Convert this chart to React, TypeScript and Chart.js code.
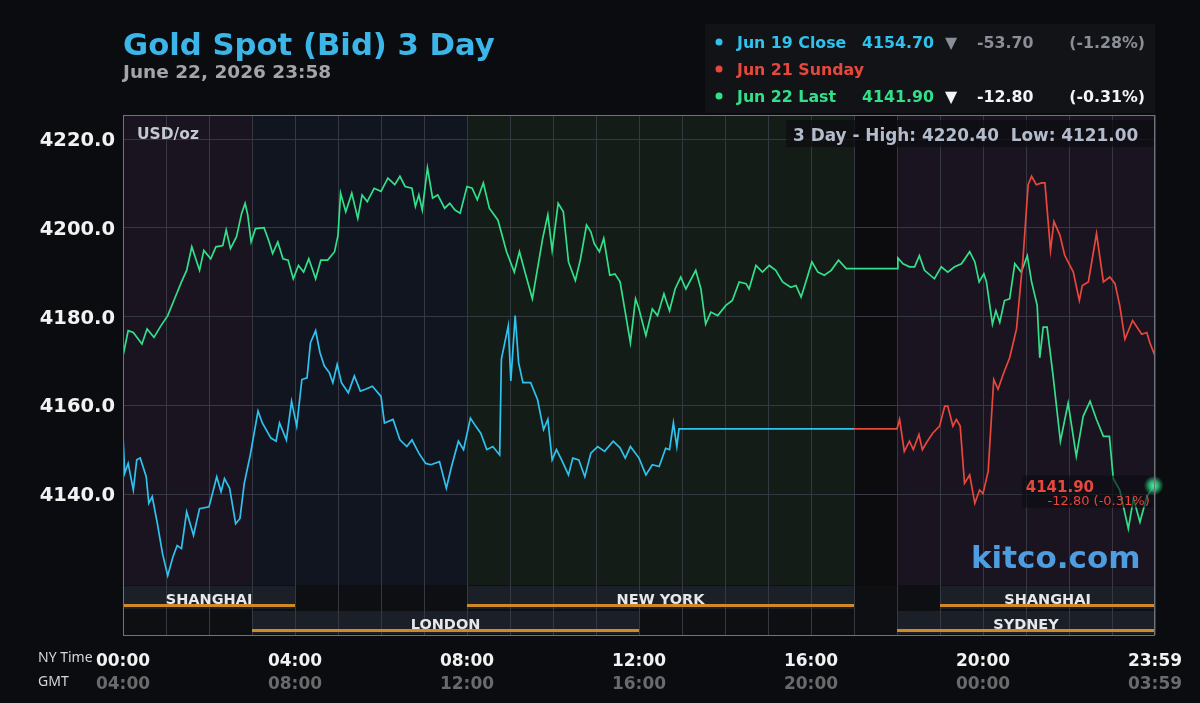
import React, { useEffect, useRef } from "react";
import { Chart, registerables } from "chart.js";

Chart.register(...registerables);

// ---------- DATA (hours in NY time, price USD/oz) ----------
const friHours = [0, 0.04, 0.12, 0.24, 0.32, 0.4, 0.54, 0.6, 0.68, 0.8, 0.92, 1.04, 1.16, 1.26, 1.36, 1.48, 1.64, 1.78, 2.0, 2.18, 2.28, 2.36, 2.48, 2.62, 2.72, 2.82, 2.96, 3.14, 3.24, 3.44, 3.56, 3.64, 3.8, 3.92, 4.04, 4.16, 4.28, 4.36, 4.48, 4.58, 4.68, 4.8, 4.88, 4.98, 5.08, 5.24, 5.38, 5.52, 5.64, 5.8, 6.0, 6.08, 6.28, 6.44, 6.6, 6.72, 6.88, 7.04, 7.16, 7.36, 7.52, 7.64, 7.8, 7.92, 8.08, 8.2, 8.32, 8.46, 8.6, 8.76, 8.8, 8.96, 9.02, 9.12, 9.2, 9.3, 9.48, 9.64, 9.78, 9.88, 9.98, 10.08, 10.2, 10.36, 10.46, 10.6, 10.74, 10.88, 11.04, 11.2, 11.4, 11.56, 11.68, 11.8, 12.0, 12.16, 12.31, 12.47, 12.62, 12.71, 12.8, 12.88, 12.93, 17.0];
const friValues = [4153, 4144.7, 4146.9, 4140.9, 4147.7, 4148.1, 4143.9, 4137.9, 4139.4, 4133.3, 4126.5, 4121.6, 4125.8, 4128.4, 4127.7, 4136, 4130.7, 4136.7, 4137.1, 4143.9, 4140.5, 4143.5, 4141.3, 4133.3, 4134.5, 4142.4, 4148.8, 4158.7, 4156, 4152.6, 4151.9, 4156, 4152.2, 4160.9, 4155.3, 4165.8, 4166.2, 4174.1, 4176.8, 4171.9, 4168.9, 4167.3, 4165.1, 4169.2, 4165.1, 4162.8, 4166.6, 4163.2, 4163.6, 4164.3, 4162, 4156, 4156.8, 4152.2, 4150.7, 4152.2, 4149.2, 4146.9, 4146.6, 4147.3, 4141.3, 4146.2, 4151.9, 4150, 4157.1, 4155.3, 4153.7, 4150, 4150.7, 4148.8, 4170.4, 4177.9, 4165.5, 4180.2, 4169.6, 4165.1, 4165.1, 4161.3, 4154.5, 4156.8, 4147.7, 4150, 4147.7, 4144.3, 4148.1, 4147.7, 4143.9, 4149.2, 4150.7, 4149.6, 4151.9, 4150.4, 4148.1, 4150.7, 4148.1, 4144.3, 4146.6, 4146.2, 4150.3, 4150, 4156, 4150.7, 4154.7, 4154.7];

const sunHours = [17.0, 18.0, 18.06, 18.17, 18.29, 18.38, 18.51, 18.59, 18.68, 18.83, 18.99, 19.11, 19.18, 19.3, 19.38, 19.47, 19.57, 19.69, 19.81, 19.92, 20.0, 20.12, 20.25, 20.35, 20.47, 20.62, 20.78, 20.93, 21.05, 21.13, 21.24, 21.36, 21.44, 21.57, 21.65, 21.79, 21.9, 22.1, 22.24, 22.31, 22.45, 22.64, 22.8, 22.95, 23.07, 23.18, 23.3, 23.48, 23.69, 23.81, 23.88, 24.0];
const sunValues = [4154.7, 4154.7, 4156.8, 4149.6, 4151.9, 4150, 4153.4, 4150, 4151.5, 4153.7, 4155.3, 4159.8, 4159.8, 4155.3, 4156.8, 4155.3, 4142.4, 4144.3, 4137.9, 4140.9, 4140.1, 4145.1, 4165.8, 4163.6, 4167, 4170.7, 4177.2, 4193, 4209.7, 4211.6, 4209.7, 4210.1, 4210.1, 4194.9, 4201.4, 4198.3, 4193.8, 4190, 4183.6, 4187, 4187.8, 4198.7, 4187.8, 4188.9, 4187.4, 4182.5, 4174.9, 4179.1, 4176, 4176.4, 4174.1, 4171.1];

const monHours = [0, 0.12, 0.24, 0.44, 0.56, 0.72, 0.88, 1.04, 1.2, 1.36, 1.48, 1.6, 1.78, 1.88, 2.04, 2.16, 2.32, 2.4, 2.5, 2.64, 2.76, 2.84, 2.9, 2.98, 3.08, 3.28, 3.4, 3.48, 3.6, 3.72, 3.84, 3.96, 4.08, 4.2, 4.32, 4.48, 4.6, 4.76, 4.92, 5.0, 5.06, 5.18, 5.32, 5.46, 5.56, 5.68, 5.84, 6.0, 6.16, 6.32, 6.44, 6.56, 6.72, 6.8, 6.88, 6.96, 7.08, 7.2, 7.32, 7.48, 7.6, 7.72, 7.84, 8.0, 8.12, 8.24, 8.38, 8.52, 8.72, 8.92, 9.1, 9.22, 9.36, 9.52, 9.64, 9.76, 9.88, 9.98, 10.12, 10.24, 10.36, 10.52, 10.64, 10.78, 10.88, 10.96, 11.08, 11.18, 11.32, 11.44, 11.56, 11.68, 11.8, 11.92, 12.0, 12.16, 12.31, 12.43, 12.58, 12.71, 12.84, 12.97, 13.09, 13.32, 13.44, 13.55, 13.67, 13.83, 14.02, 14.17, 14.33, 14.49, 14.56, 14.72, 14.87, 15.03, 15.18, 15.34, 15.53, 15.65, 15.77, 15.88, 16.02, 16.16, 16.31, 16.47, 16.64, 16.82, 17.0, 18.0, 18.02, 18.14, 18.29, 18.41, 18.52, 18.64, 18.87, 19.03, 19.18, 19.34, 19.5, 19.69, 19.81, 19.91, 20.02, 20.08, 20.22, 20.3, 20.39, 20.5, 20.62, 20.74, 20.89, 21.03, 21.13, 21.26, 21.32, 21.4, 21.49, 21.63, 21.8, 21.98, 22.17, 22.33, 22.49, 22.64, 22.8, 22.94, 23.03, 23.18, 23.38, 23.5, 23.65, 23.81, 23.97];
const monValues = [4171.1, 4176.8, 4176.4, 4173.8, 4177.2, 4175.3, 4177.9, 4180.2, 4184, 4187.8, 4190.4, 4195.7, 4190.4, 4194.9, 4193, 4195.7, 4196, 4199.5, 4195.3, 4198, 4203.3, 4205.5, 4202.9, 4196.8, 4199.8, 4200, 4196.8, 4194.2, 4196.8, 4193, 4192.7, 4188.5, 4191.5, 4190, 4193, 4188.5, 4192.7, 4192.7, 4194.6, 4198.3, 4207.8, 4203.6, 4207.8, 4202.1, 4207.4, 4205.9, 4208.9, 4208.2, 4211.2, 4209.7, 4211.6, 4209.3, 4208.9, 4204.8, 4207.4, 4204, 4213.5, 4206.7, 4207.4, 4204.4, 4205.5, 4204, 4203.3, 4209.3, 4208.9, 4206.3, 4210.1, 4204.4, 4201.7, 4194.6, 4190, 4194.6, 4189.6, 4184, 4190.8, 4197.6, 4202.9, 4194.9, 4205.5, 4203.6, 4192.3, 4188.1, 4193, 4200.6, 4199.1, 4196.4, 4194.6, 4197.6, 4189.3, 4189.6, 4187.8, 4181, 4174.1, 4184, 4181.7, 4175.7, 4181.7, 4180.2, 4185.1, 4181.3, 4186.2, 4188.9, 4186.2, 4190.4, 4186.2, 4178.3, 4181, 4180.2, 4182.5, 4183.6, 4187.8, 4187.4, 4186.2, 4191.5, 4190, 4191.5, 4190.4, 4187.8, 4186.6, 4187, 4184.4, 4187.8, 4192.3, 4190, 4189.3, 4190.4, 4192.7, 4190.8, 4190.8, 4190.8, 4193.2, 4191.9, 4191.2, 4191.2, 4193.7, 4190.4, 4188.5, 4191.2, 4190, 4191.2, 4191.9, 4194.6, 4192.3, 4187.8, 4189.6, 4187.8, 4178.3, 4181.3, 4178.7, 4183.6, 4184, 4191.9, 4190, 4193.7, 4187.8, 4182.5, 4170.7, 4177.6, 4177.6, 4166.6, 4151.9, 4160.5, 4148.5, 4157.5, 4160.9, 4156.8, 4153, 4153, 4143.5, 4140.9, 4132.2, 4139, 4133.7, 4139.4, 4141.9];

const yTicks = [4140, 4160, 4180, 4200, 4220];
const hourTicks = [0, 1, 2, 3, 4, 5, 6, 7, 8, 9, 10, 11, 12, 13, 14, 15, 16, 17, 18, 19, 20, 21, 22, 23, 24];
const labelHours = [0, 4, 8, 12, 16, 20, 24];
const nyLabels = ["00:00", "04:00", "08:00", "12:00", "16:00", "20:00", "23:59"];
const gmtLabels = ["04:00", "08:00", "12:00", "16:00", "20:00", "00:00", "03:59"];

const shadeStarts = [0, 3, 8, 17, 18];
const shadeEnds = [3, 8, 17, 18, 24];
const shadeColors = ["#1a1420", "#111520", "#141c17", "#0c0c0f", "#1a1420"];

const sessionNames = ["SHANGHAI", "LONDON", "NEW YORK", "SYDNEY", "SHANGHAI"];
const sessionStarts = [0, 3, 8, 18, 19];
const sessionEnds = [4, 12, 17, 24, 24];
const sessionRows = [0, 1, 0, 1, 0];

const legendLabels = ["Jun 19 Close", "Jun 21 Sunday", "Jun 22 Last"];
const legendPrices = ["4154.70", "", "4141.90"];
const legendChanges = ["-53.70", "", "-12.80"];
const legendPercents = ["(-1.28%)", "", "(-0.31%)"];

// ---------- STYLE ----------
const BLUE = "#2fc2ee";
const RED = "#e8473c";
const GREEN = "#33e08a";
const PAGE_BG = "#0b0c0f";
const GRID = "#353840";
const F = "'DejaVu Sans', sans-serif";
const SESSION_TOP = 585;

const bgPlugin = {
  id: "bgPlugin",
  beforeDraw(chart: any) {
    const { ctx, chartArea: a, scales } = chart;
    const x = scales.x;
    ctx.save();
    ctx.fillStyle = PAGE_BG;
    ctx.fillRect(0, 0, chart.width, chart.height);
    // legend panel
    ctx.fillStyle = "#121317";
    ctx.fillRect(705, 24, 450, 89);
    // session shading
    for (let i = 0; i < shadeStarts.length; i++) {
      const x0 = x.getPixelForValue(shadeStarts[i]);
      const x1 = x.getPixelForValue(shadeEnds[i]);
      ctx.fillStyle = shadeColors[i];
      ctx.fillRect(x0, a.top, x1 - x0, SESSION_TOP - a.top);
    }
    // session strip
    ctx.fillStyle = "#0e0f13";
    ctx.fillRect(a.left, SESSION_TOP, a.right - a.left, a.bottom - SESSION_TOP);
    for (let i = 0; i < sessionNames.length; i++) {
      const x0 = x.getPixelForValue(sessionStarts[i]);
      const x1 = x.getPixelForValue(sessionEnds[i]);
      const top = sessionRows[i] === 0 ? 586 : 611;
      ctx.fillStyle = "#1b1f28";
      ctx.fillRect(x0, top, x1 - x0, 23);
    }
    ctx.restore();
  },
  afterDatasetsDraw(chart: any) {
    const { ctx, scales } = chart;
    const n = monHours.length - 1;
    const px = scales.x.getPixelForValue(monHours[n]);
    const py = scales.y.getPixelForValue(monValues[n]);
    ctx.save();
    // last value box
    ctx.fillStyle = "rgba(12,12,16,0.62)";
    ctx.fillRect(px - 132, py - 10, 132, 32);
    ctx.fillStyle = RED;
    ctx.font = `bold 15px ${F}`;
    ctx.textAlign = "left";
    ctx.textBaseline = "alphabetic";
    ctx.fillText(legendPrices[2], px - 128, py + 6);
    ctx.font = `13px ${F}`;
    ctx.textAlign = "right";
    ctx.fillText(`${legendChanges[2]} ${legendPercents[2]}`, px - 4, py + 19);
    // glowing dot
    const g = ctx.createRadialGradient(px, py, 0, px, py, 10);
    g.addColorStop(0, "rgba(70,245,160,1)");
    g.addColorStop(0.45, "rgba(50,225,140,0.75)");
    g.addColorStop(1, "rgba(40,200,120,0)");
    ctx.fillStyle = g;
    ctx.beginPath();
    ctx.arc(px, py, 10, 0, Math.PI * 2);
    ctx.fill();
    ctx.restore();
  },
  afterDraw(chart: any) {
    const { ctx, chartArea: a, scales } = chart;
    const x = scales.x;
    ctx.save();
    // session orange bars and names
    for (let i = 0; i < sessionNames.length; i++) {
      const x0 = x.getPixelForValue(sessionStarts[i]);
      const x1 = x.getPixelForValue(sessionEnds[i]);
      const lineY = sessionRows[i] === 0 ? 604 : 629;
      ctx.fillStyle = "#cf8a25";
      ctx.fillRect(x0, lineY, x1 - x0, 3);
      ctx.fillStyle = "#e6e8ec";
      ctx.font = `bold 14.5px ${F}`;
      ctx.textAlign = "center";
      ctx.textBaseline = "alphabetic";
      ctx.fillText(sessionNames[i], (x0 + x1) / 2, lineY);
    }
    // plot border
    ctx.strokeStyle = "#6f737c";
    ctx.lineWidth = 1;
    ctx.strokeRect(a.left + 0.5, a.top + 0.5, a.right - a.left - 1, a.bottom - a.top);

    // title
    ctx.textAlign = "left";
    ctx.textBaseline = "alphabetic";
    ctx.fillStyle = "#3cb6e8";
    ctx.font = `bold 30.7px ${F}`;
    ctx.fillText("Gold Spot (Bid) 3 Day", 123, 55);
    ctx.fillStyle = "#a3a5a9";
    ctx.font = `bold 18.5px ${F}`;
    ctx.fillText("June 22, 2026 23:58", 123, 78);

    // legend
    const rowY = [48, 75, 102];
    const colors = [BLUE, RED, GREEN];
    const valColors = ["#8a8e96", "", "#f4f4f4"];
    for (let i = 0; i < 3; i++) {
      const cy = rowY[i] - 6;
      ctx.fillStyle = colors[i];
      ctx.beginPath();
      ctx.arc(719, cy, 3.5, 0, Math.PI * 2);
      ctx.fill();
      ctx.font = `bold 15.8px ${F}`;
      ctx.textAlign = "left";
      ctx.fillText(legendLabels[i], 737, rowY[i]);
      if (legendPrices[i]) {
        ctx.fillText(legendPrices[i], 862, rowY[i]);
        ctx.fillStyle = valColors[i];
        ctx.fillText("\u25BC", 945, rowY[i]);
        ctx.fillText(legendChanges[i], 977, rowY[i]);
        ctx.textAlign = "right";
        ctx.fillText(legendPercents[i], 1145, rowY[i]);
      }
    }

    // USD/oz
    ctx.textAlign = "left";
    ctx.fillStyle = "#c4c8d0";
    ctx.font = `bold 15.5px ${F}`;
    ctx.fillText("USD/oz", 137, 139);

    // high / low box
    ctx.fillStyle = "rgba(12,13,17,0.72)";
    ctx.fillRect(786, 120, a.right - 786 - 1, 27);
    ctx.fillStyle = "#b4bccb";
    ctx.font = `bold 16.9px ${F}`;
    ctx.fillText("3 Day - High: 4220.40  Low: 4121.00", 793, 141);

    // watermark
    ctx.fillStyle = "#4d9de0";
    ctx.font = `bold 31px ${F}`;
    ctx.fillText("kitco.com", 971, 568);

    // bottom time labels
    ctx.font = "14px 'Noto Sans', sans-serif";
    ctx.fillStyle = "#d4d6da";
    ctx.fillText("NY Time", 38, 662);
    ctx.fillText("GMT", 38, 686);
    ctx.textAlign = "center";
    ctx.font = `bold 17px ${F}`;
    for (let i = 0; i < labelHours.length; i++) {
      const lx = x.getPixelForValue(labelHours[i]);
      ctx.fillStyle = "#f2f2f2";
      ctx.fillText(nyLabels[i], lx, 666);
      ctx.fillStyle = "#6a6a6c";
      ctx.fillText(gmtLabels[i], lx, 689);
    }
    ctx.restore();
  },
};

function toPoints(hs: number[], vs: number[]) {
  return hs.map((h, i) => ({ x: h, y: vs[i] }));
}

export default function App() {
  const ref = useRef<HTMLCanvasElement>(null);
  useEffect(() => {
    const canvas = ref.current;
    if (!canvas) return;
    const chart = new Chart(canvas, {
      type: "line",
      data: {
        datasets: [
          { label: legendLabels[0], data: toPoints(friHours, friValues), borderColor: BLUE, borderWidth: 1.7, pointRadius: 0, tension: 0, fill: false },
          { label: legendLabels[1], data: toPoints(sunHours, sunValues), borderColor: RED, borderWidth: 1.7, pointRadius: 0, tension: 0, fill: false },
          { label: legendLabels[2], data: toPoints(monHours, monValues), borderColor: GREEN, borderWidth: 1.7, pointRadius: 0, tension: 0, fill: false },
        ],
      },
      options: {
        animation: false,
        responsive: false,
        maintainAspectRatio: false,
        layout: { padding: { top: 115, right: 45, left: 0, bottom: 0 } },
        plugins: { legend: { display: false }, tooltip: { enabled: false } },
        scales: {
          x: {
            type: "linear",
            min: 0,
            max: 24,
            afterBuildTicks: (s: any) => {
              s.ticks = hourTicks.map((v) => ({ value: v }));
            },
            ticks: { display: false },
            grid: { color: GRID, drawTicks: false, lineWidth: 1 },
            border: { display: false },
            afterFit: (s: any) => {
              s.height = 68;
            },
          },
          y: {
            type: "linear",
            min: 4108.23,
            max: 4225.41,
            afterBuildTicks: (s: any) => {
              s.ticks = yTicks.map((v) => ({ value: v }));
            },
            ticks: {
              color: "#f2f2f2",
              font: { family: "'DejaVu Sans', sans-serif", weight: "bold", size: 19.5 },
              padding: 8,
              labelOffset: 2,
              callback: (v: any) => Number(v).toFixed(1),
            },
            grid: { color: GRID, drawTicks: false, lineWidth: 1 },
            border: { display: false },
            afterFit: (s: any) => {
              s.width = 123;
            },
          },
        },
      },
      plugins: [bgPlugin],
    } as any);
    return () => chart.destroy();
  }, []);
  return (
    <div style={{ position: "fixed", left: 0, top: 0, width: 1200, height: 703, background: PAGE_BG }}>
      <canvas ref={ref} width={1200} height={703} style={{ width: 1200, height: 703, display: "block" }} />
    </div>
  );
}
